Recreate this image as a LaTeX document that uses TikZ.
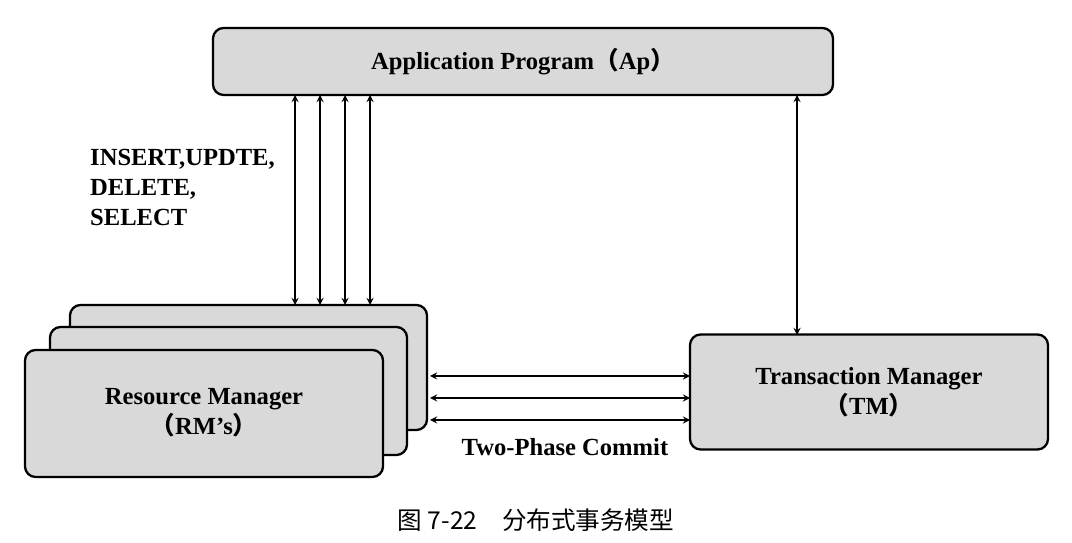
\documentclass[tikz,border=0pt]{standalone}
\usepackage{fontspec}
\setmainfont{Liberation Serif}
\newfontfamily\cjk{Noto Sans CJK SC}
\newcommand{\lp}{{\cjk （}}
\newcommand{\rp}{{\cjk ）}}
\begin{document}
\begin{tikzpicture}[x=0.02cm,y=-0.02cm,
  box/.style={draw=black,line width=1.3pt,fill=gray!30,rounded corners=6pt},
  lbl/.style={font=\fontsize{14}{17}\selectfont\bfseries},
  arr/.style={<->,>=stealth,line width=0.8pt}]
\useasboundingbox (0,0) rectangle (1072,543);
\node[box,minimum width=620*0.02cm,minimum height=67*0.02cm,lbl] (ap) at (523,61.5) {Application Program\lp Ap\rp};
\draw[box] (70,305) rectangle (427,430);
\draw[box] (50,327) rectangle (407,455);
\draw[box] (25,350) rectangle (383,477);
\node[lbl,align=center] (rm) at (204,413) {Resource Manager\\\lp RM’s\rp};
\node[box,minimum width=358*0.02cm,minimum height=115*0.02cm,lbl,align=center] (tm) at (869,392) {Transaction Manager\\\lp TM\rp};
\foreach \x in {295,320,345,370}
  \draw[arr] (\x,95) -- (\x,305);
\draw[arr] (797,95) -- (797,335);
\foreach \y in {376,398,420}
  \draw[arr] (430,\y) -- (690,\y);
\node[lbl,align=left,anchor=north west] (ops) at (84,143) {INSERT,UPDTE,\\DELETE,\\SELECT};
\node[lbl] (tpc) at (565,447) {Two-Phase Commit};
\node[font=\cjk\fontsize{14}{17}\selectfont] (cap) at (536,520) {图 7-22\quad 分布式事务模型};
\end{tikzpicture}
\end{document}
